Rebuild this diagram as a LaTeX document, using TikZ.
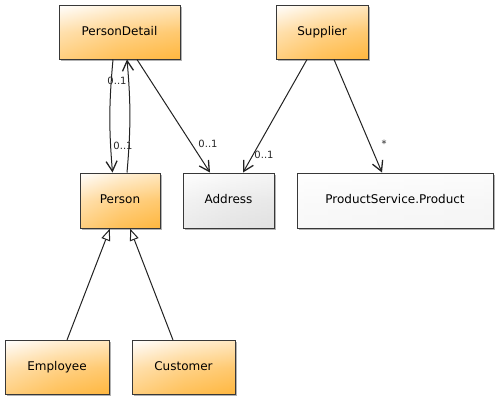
\documentclass[tikz,border=0pt]{standalone}
\usepackage{fontspec}
\setmainfont{DejaVu Sans}
\usetikzlibrary{arrows.meta,shadows}
\definecolor{umlorange}{HTML}{FFA000}
\definecolor{umlgray}{HTML}{D8D8D8}
\definecolor{umlpale}{HTML}{F2F2F2}
\definecolor{umlline}{HTML}{222222}
\tikzset{
  cls/.style={draw=umlline!90, line width=1pt, minimum height=54pt, inner sep=0pt,
    fill=white, text height=9pt, text depth=3pt,
    font=\fontsize{12}{14}\selectfont,
    drop shadow={shadow xshift=1.6pt, shadow yshift=-1.6pt, fill=black, opacity=0.3}},
  diag/.style={path picture={
      \fill[left color=white, right color=#1, middle color=#1!62]
        (path picture bounding box.south west) rectangle (path picture bounding box.north east);
      \fill[top color=white, bottom color=#1, middle color=#1!62, fill opacity=0.5]
        (path picture bounding box.south west) rectangle (path picture bounding box.north east);}},
  orangecls/.style={cls, diag=umlorange},
  graycls/.style={cls, diag=umlgray},
  whitecls/.style={cls, diag=umlpale},
  assoc/.style={draw=umlline, line width=1pt, -{Straight Barb[length=10pt, width=11pt, line width=1.3pt]}},
  inherit/.style={draw=umlline, line width=1pt, -{Triangle[open, length=12pt, width=9pt, fill=white]}},
  lbl/.style={font=\fontsize{10}{12}\selectfont, inner sep=0pt, text height=7pt, text depth=0pt, text=black!85}
}
\begin{document}
\begin{tikzpicture}[x=1pt, y=1pt]
\useasboundingbox (0,0) rectangle (498,-400);
\node[orangecls, minimum width=121pt] (PD) at (119.5,-32) {PersonDetail};
\node[orangecls, minimum width=92pt] (S) at (322,-32) {Supplier};
\node[orangecls, minimum width=80pt, minimum height=55pt] (P) at (120,-200.5) {Person};
\node[graycls, minimum width=91pt, minimum height=55pt] (A) at (228.5,-200.5) {Address};
\node[whitecls, minimum width=196pt, minimum height=55pt] (Pr) at (395,-200.5) {ProductService.Product};
\node[orangecls, minimum width=104pt] (E) at (57,-367.5) {Employee};
\node[orangecls, minimum width=103pt] (C) at (183.5,-367.5) {Customer};

\draw[assoc] ([xshift=-6.5pt]PD.south) to[bend right=5] ([xshift=-7.5pt]P.north);
\draw[assoc] ([xshift=7pt]P.north) to[bend right=5] ([xshift=7.5pt]PD.south);
\draw[assoc] ([xshift=17.5pt]PD.south) -- ([xshift=-18.5pt]A.north);
\draw[assoc] ([xshift=-15pt]S.south) -- ([xshift=14.5pt]A.north);
\draw[assoc] ([xshift=12pt]S.south) -- ([xshift=-13pt]Pr.north);
\draw[inherit] ([xshift=10pt]E.north) -- ([xshift=-10pt]P.south);
\draw[inherit] ([xshift=-10.5pt]C.north) -- ([xshift=10pt]P.south);

\node[lbl] (l1) at ([xshift=-2.5pt, yshift=-21pt]PD.south) {0..1};
\node[lbl] (l2) at ([xshift=3pt, yshift=27pt]P.north) {0..1};
\node[lbl] (l3) at ([xshift=-20.5pt, yshift=29pt]A.north) {0..1};
\node[lbl] (l4) at ([xshift=35.5pt, yshift=18pt]A.north) {0..1};
\node[lbl] (l5) at ([xshift=-11pt, yshift=28.5pt]Pr.north) {*};
\end{tikzpicture}
\end{document}
